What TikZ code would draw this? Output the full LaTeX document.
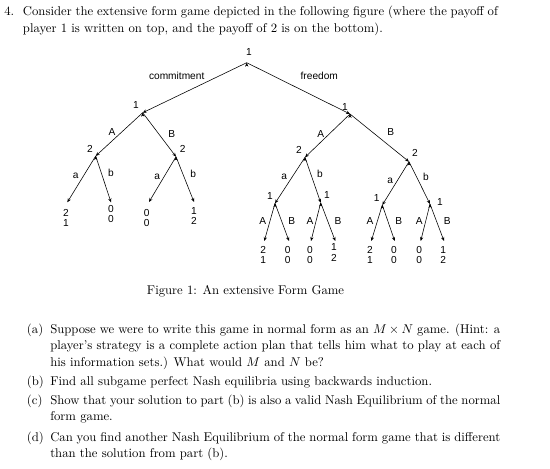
\documentclass[tikz,border=0pt]{standalone}
\usepackage{amsmath,amssymb}
\usepackage{fontspec}
\newfontfamily\treefont{Liberation Sans}
\usepackage{tikz}
\usetikzlibrary{arrows.meta}
\tikzset{
  >={Stealth[length=1.1mm,width=0.9mm]},
  gtedge/.style={->,line width=0.45pt},
  gtlbl/.style={font=\treefont\fontsize{8}{8}\selectfont,inner sep=0pt},
  gtpay/.style={gtlbl,align=center,font=\treefont\fontsize{8}{7.9}\selectfont},
  txt/.style={anchor=base west,inner sep=0pt,font=\fontsize{10}{12.8}\selectfont},
}

\begin{document}
\begin{tikzpicture}[x=0.787pt,y=-0.787pt]
  \useasboundingbox (0,0) rectangle (550,468);
  % question text
  \node[txt] (qnum) at (4,16) {4.};
  \node[txt] (q1) at (22.7,16) {\makebox[373.8pt][s]{Consider the extensive form game depicted in the following figure (where the payoff of}};
  \node[txt] (q2) at (22.7,32.3) {player 1 is written on top, and the payoff of 2 is on the bottom).};
  % tree vertices
  \coordinate (r) at (246.7,62.7);
  \coordinate (c) at (142.7,112.7);
  \coordinate (f) at (350,114);
  \coordinate (cA) at (95.7,156);
  \coordinate (cB) at (176,156.7);
  \coordinate (fA) at (305,157.3);
  \coordinate (fB) at (409,161.7);
  \coordinate (fAa) at (275,203.3);
  \coordinate (fAb) at (320.7,202.7);
  \coordinate (fBa) at (382.3,205);
  \coordinate (fBb) at (430,204);
  \coordinate (c1) at (67.3,202.3);
  \coordinate (c2) at (111,202.3);
  \coordinate (c3) at (149,202);
  \coordinate (c4) at (194,202);
  \coordinate (f1) at (264.3,241);
  \coordinate (f2) at (289,241);
  \coordinate (f3) at (311,241);
  \coordinate (f4) at (335.3,241);
  \coordinate (f5) at (371.3,241);
  \coordinate (f6) at (394.7,241);
  \coordinate (f7) at (420.7,241);
  \coordinate (f8) at (444,241);
  % branches
  \draw[gtedge] (r) edge (c) edge (f);
  \draw[gtedge] (c) edge (cA) edge (cB);
  \draw[gtedge] (cA) edge (c1) edge (c2);
  \draw[gtedge] (cB) edge (c3) edge (c4);
  \draw[gtedge] (f) edge (fA) edge (fB);
  \draw[gtedge] (fA) edge (fAa) edge (fAb);
  \draw[gtedge] (fB) edge (fBa) edge (fBb);
  \draw[gtedge] (fAa) edge (f1) edge (f2);
  \draw[gtedge] (fAb) edge (f3) edge (f4);
  \draw[gtedge] (fBa) edge (f5) edge (f6);
  \draw[gtedge] (fBb) edge (f7) edge (f8);
  % players
  \node[gtlbl] (rlbl) at (249,52) {1};
  \node[gtlbl] (clbl) at (136,105) {1};
  \node[gtlbl] (flbl) at (345,106.7) {1};
  \node[gtlbl] (cAlbl) at (90,149) {2};
  \node[gtlbl] (cBlbl) at (182.7,149) {2};
  \node[gtlbl] (fAlbl) at (299,150) {2};
  \node[gtlbl] (fBlbl) at (415,153) {2};
  \node[gtlbl] (fAalbl) at (270,196) {1};
  \node[gtlbl] (fAblbl) at (327,195) {1};
  \node[gtlbl] (fBalbl) at (376.7,198.3) {1};
  \node[gtlbl] (fBblbl) at (440,201.7) {1};
  % actions
  \node[gtlbl] (commit) at (176.7,76) {commitment};
  \node[gtlbl] (free) at (319.3,76) {freedom};
  \node[gtlbl] (cAact) at (112,132) {A};
  \node[gtlbl] (cBact) at (171.7,134) {B};
  \node[gtlbl] (fAact) at (320.7,134) {A};
  \node[gtlbl] (fBact) at (390.7,131.7) {B};
  \node[gtlbl] (ca1) at (75.7,176) {a};
  \node[gtlbl] (cb1) at (111,173) {b};
  \node[gtlbl] (ca2) at (157.3,176.7) {a};
  \node[gtlbl] (cb2) at (193.3,174.3) {b};
  \node[gtlbl] (fa1) at (284.3,176.7) {a};
  \node[gtlbl] (fb1) at (320,174) {b};
  \node[gtlbl] (fa2) at (390.3,180.7) {a};
  \node[gtlbl] (fb2) at (426,176.7) {b};
  \node[gtlbl] (fA1) at (262.7,221) {A};
  \node[gtlbl] (fB1) at (291.7,221) {B};
  \node[gtlbl] (fA2) at (310,221) {A};
  \node[gtlbl] (fB2) at (338,221) {B};
  \node[gtlbl] (fA3) at (370,221) {A};
  \node[gtlbl] (fB3) at (398.7,221) {B};
  \node[gtlbl] (fA4) at (419.3,221) {A};
  \node[gtlbl] (fB4) at (447.3,221) {B};
  % payoffs
  \node[gtpay] (pc1) at (66,217.7) {2\\1};
  \node[gtpay] (pc2) at (111,213.8) {0\\0};
  \node[gtpay] (pc3) at (146.7,218.3) {0\\0};
  \node[gtpay] (pc4) at (194,216) {1\\2};
  \node[gtpay] (pf1) at (263.3,255) {2\\1};
  \node[gtpay] (pf2) at (287.7,255) {0\\0};
  \node[gtpay] (pf3) at (310,255) {0\\0};
  \node[gtpay] (pf4) at (334,252.5) {1\\2};
  \node[gtpay] (pf5) at (370,255) {2\\1};
  \node[gtpay] (pf6) at (394,255) {0\\0};
  \node[gtpay] (pf7) at (419.3,255) {0\\0};
  \node[gtpay] (pf8) at (443.3,255) {1\\2};
  % caption and parts
  \node[txt] (cap) at (146.7,294) {Figure 1: An extensive Form Game};
  \node[txt] (ia) at (26.7,333.3) {(a)};
  \node[txt] (ta1) at (50,333.3) {\makebox[354.2pt][s]{Suppose we were to write this game in normal form as an $M\times N$ game. (Hint: a}};
  \node[txt] (ta2) at (50,349.6) {\makebox[354.2pt][s]{player's strategy is a complete action plan that tells him what to play at each of}};
  \node[txt] (ta3) at (50,366) {his information sets.) What would $M$ and $N$ be?};
  \node[txt] (ib) at (26.7,385.3) {(b)};
  \node[txt] (tb1) at (50,385.3) {Find all subgame perfect Nash equilibria using backwards induction.};
  \node[txt] (ic) at (26.7,404.3) {(c)};
  \node[txt] (tc1) at (50,404.3) {\makebox[354.2pt][s]{Show that your solution to part (b) is also a valid Nash Equilibrium of the normal}};
  \node[txt] (tc2) at (50,420.7) {form game.};
  \node[txt] (id) at (26.7,441.3) {(d)};
  \node[txt] (td1) at (50,441.3) {\makebox[354.2pt][s]{Can you find another Nash Equilibrium of the normal form game that is different}};
  \node[txt] (td2) at (50,457.7) {than the solution from part (b).};
\end{tikzpicture}
\end{document}
